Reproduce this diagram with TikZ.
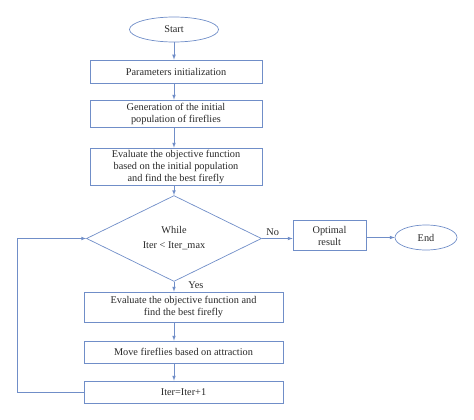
\documentclass[tikz,border=0pt]{standalone}
\usepackage{fontspec}
\setmainfont{Liberation Serif}
\usepackage{tikz}
\usetikzlibrary{arrows,calc,positioning,shapes}
\usetikzlibrary{shapes.geometric}
\definecolor{flowblue}{RGB}{112,142,200}
\definecolor{flowtext}{RGB}{40,40,40}
\tikzset{%
	startstop/.style= {draw=flowblue, ellipse, inner sep=0pt, text=flowtext, text centered},
	process/.style  = {draw=flowblue, rectangle, inner sep=0pt, minimum height=23pt, text=flowtext, align=center},
	decision/.style = {draw=flowblue, diamond, inner sep=0pt, minimum width=175pt, minimum height=65pt, text=flowtext, align=center},
	arrow/.style    = {draw=flowblue, -latex},
	lbl/.style      = {text=flowtext, inner sep=1pt},
}

\begin{document}
\begin{tikzpicture}[x=1pt,y=-1pt,font=\fontsize{10.3}{12}\selectfont,line width=0.7pt]
	\useasboundingbox (0,0) rectangle (474,420);
	\node[startstop, minimum width=89pt, minimum height=25pt] (start) at (174,29.5) {Start};
	\node[process, minimum width=172pt] (init) at (176,71.5) {Parameters initialization};
	\node[process, minimum width=172pt, minimum height=27pt] (gen) at (176,113.5) {Generation of the initial\\population of fireflies};
	\node[process, minimum width=172pt, minimum height=37pt] (eval) at (176,166.5) {Evaluate the objective function\\based on the initial population\\and find the best firefly};
	\node[decision] (while) at (174,238.5) {While\\[3pt]Iter < Iter\_max};
	\node[process, minimum width=73pt, minimum height=30pt] (opt) at (329.5,235.5) {Optimal\\result};
	\node[startstop, minimum width=62pt, minimum height=25pt] (end) at (426,237.5) {End};
	\node[process, minimum width=199pt, minimum height=30pt] (evalb) at (183.5,307) {Evaluate the objective function and\\find the best firefly};
	\node[process, minimum width=199pt, minimum height=22pt] (move) at (183.5,352) {Move fireflies based on attraction};
	\node[process, minimum width=199pt, minimum height=22pt] (iter) at (183.5,392) {Iter=Iter+1};
	\coordinate (loop) at (17,392);
	% main line
	\draw[arrow] (start) -- (start |- init.north);
	\draw[arrow] (start |- init.south) -- (start |- gen.north);
	\draw[arrow] (start |- gen.south) -- (start |- eval.north);
	\draw[arrow] (start |- eval.south) -- (while.north);
	\draw[arrow] (while.south) -- (while.south |- evalb.north) node[lbl, pos=0.3, right=13pt] {Yes};
	\draw[arrow] (while.south |- evalb.south) -- (while.south |- move.north);
	\draw[arrow] (while.south |- move.south) -- (while.south |- iter.north);
	\draw[arrow] (while.east) -- (opt.west |- while.east) node[lbl, pos=0.35, above=2pt] {No};
	\draw[arrow] (opt.east |- end.west) -- (end.west);
	% loop back
	\draw[arrow] (iter.west) -- (loop) |- (while.west);
\end{tikzpicture}
\end{document}
